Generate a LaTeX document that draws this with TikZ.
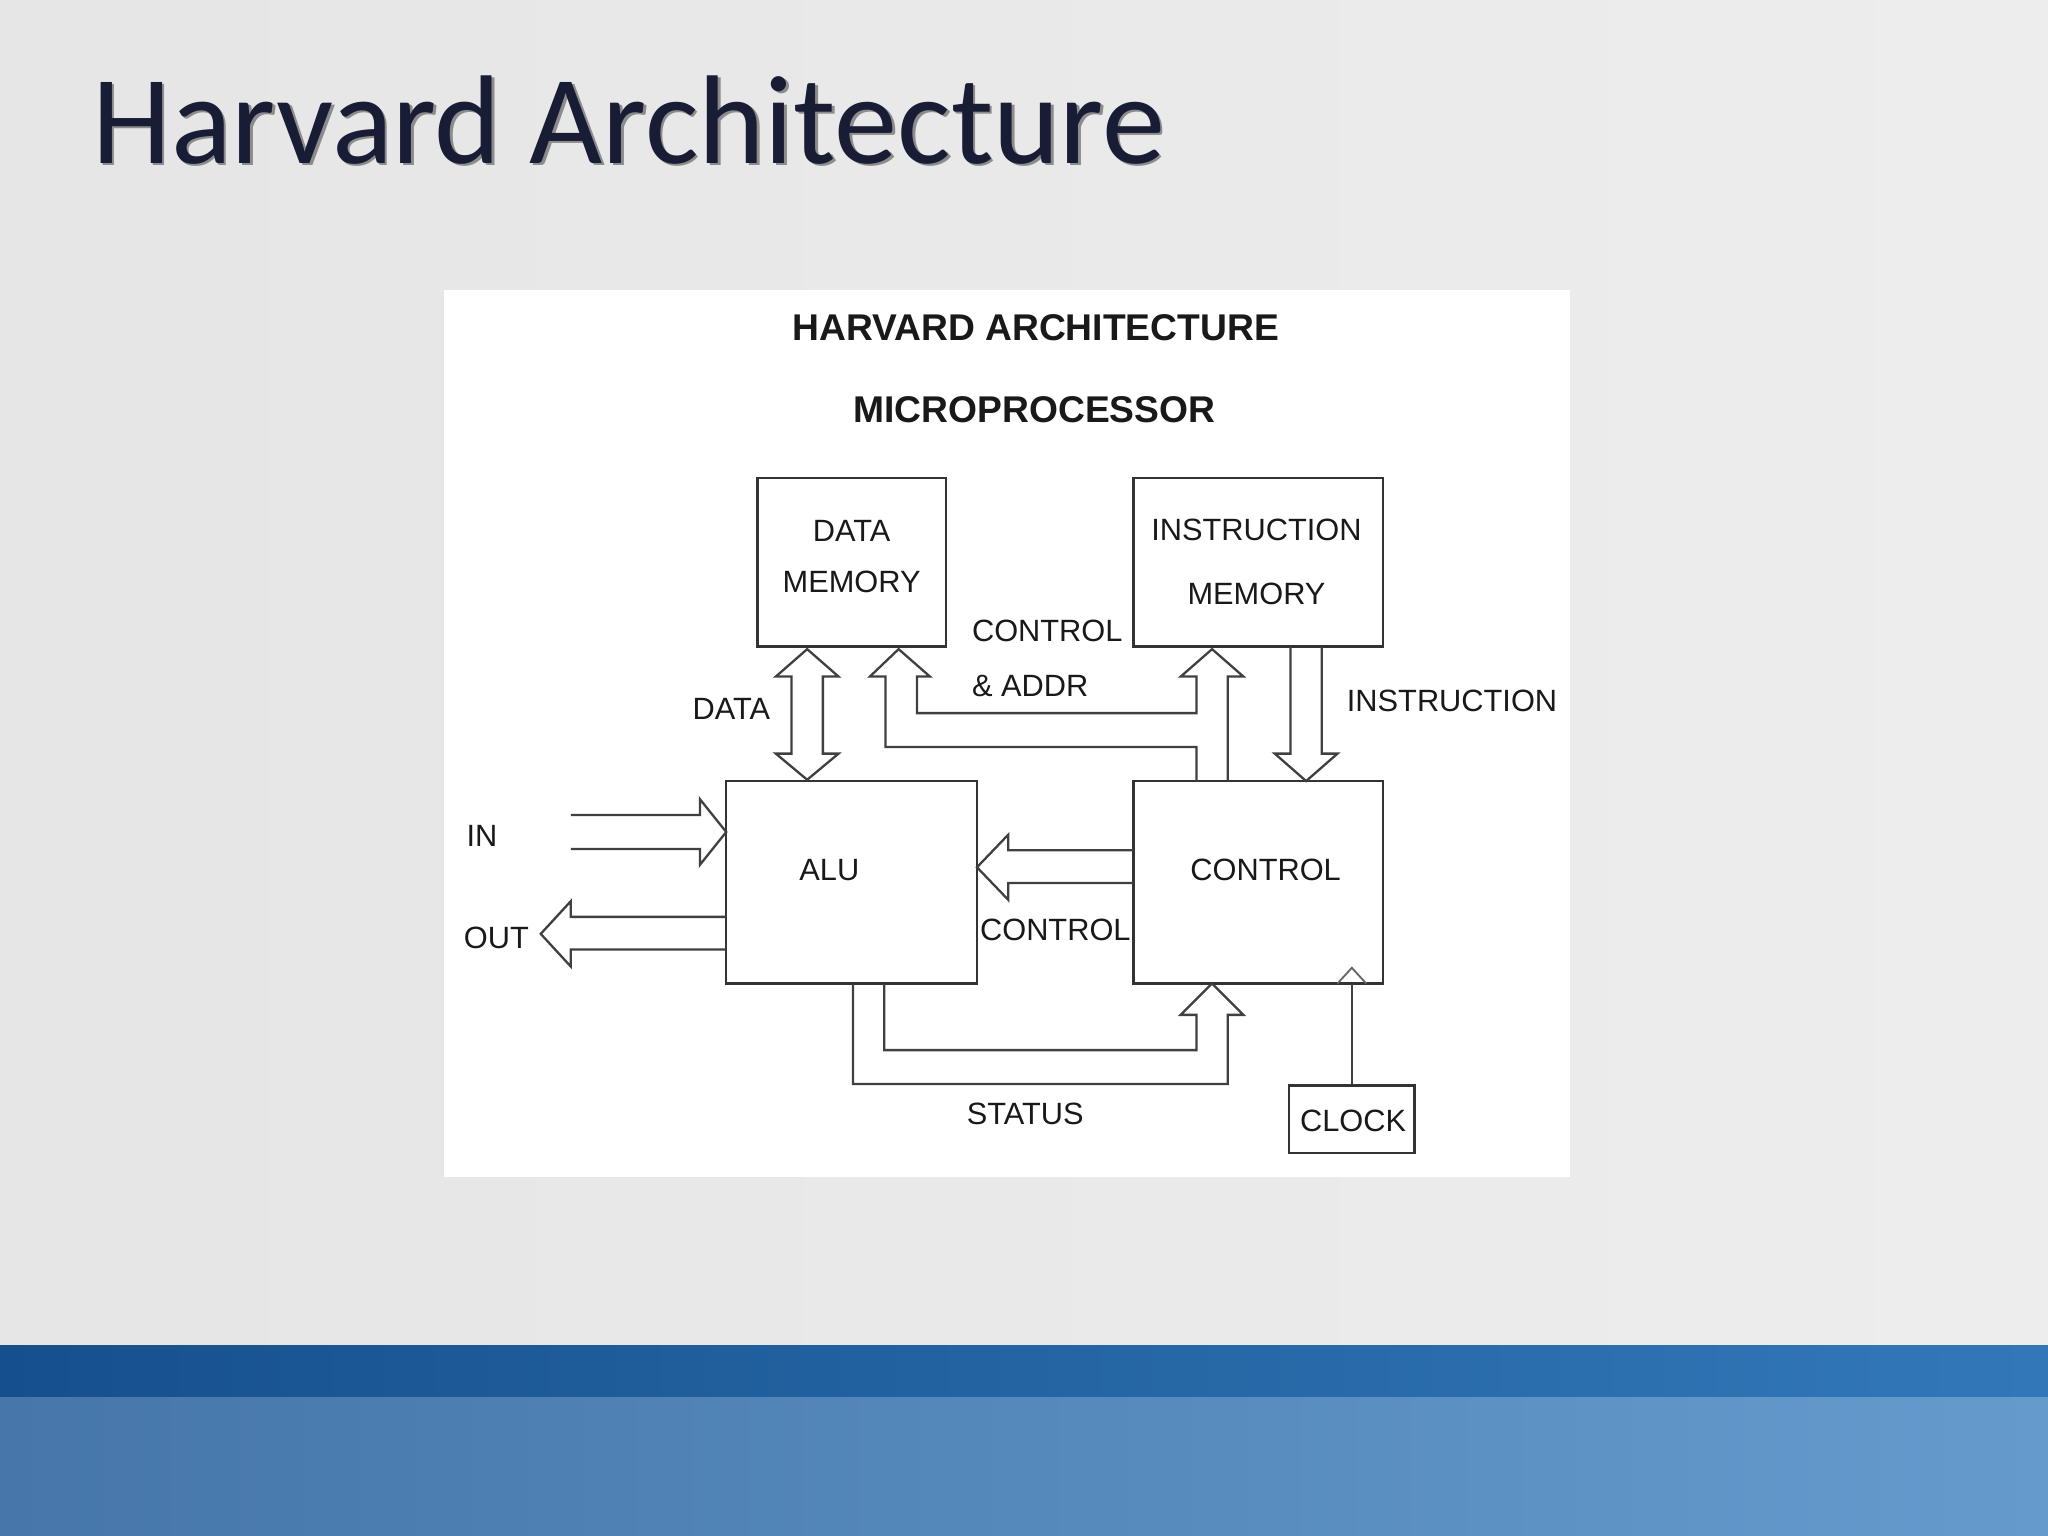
\documentclass[tikz,border=0pt]{standalone}
\usepackage{fontspec}
\setmainfont{Liberation Sans}
\newfontfamily\titlefont{Carlito}
\definecolor{navy}{RGB}{24,28,52}
\definecolor{bandA}{RGB}{22,80,140}
\definecolor{bandB}{RGB}{50,120,185}
\definecolor{bandC}{RGB}{70,118,170}
\definecolor{bandD}{RGB}{100,155,205}
\begin{document}
\begin{tikzpicture}[x=0.01cm,y=-0.01cm,
  box/.style={draw=black!80,line width=0.5pt,inner sep=0},
  fat/.style={draw=black!75,line width=0.5pt,line join=miter},
  lab/.style={font=\fontsize{6.7pt}{8pt}\selectfont,text=black!90,inner sep=1pt}]
\useasboundingbox (0,0) rectangle (1568,1176);
\shade[left color=gray!20,right color=gray!14] (0,0) rectangle (1568,1030);
\shade[left color=bandA,right color=bandB] (0,1030) rectangle (1568,1070);
\shade[left color=bandC,right color=bandD] (0,1070) rectangle (1568,1176);
\node[anchor=base west,inner sep=0,text=black!45,font=\titlefont\fontsize{27.5pt}{32pt}\selectfont] at (72,127) {Harvard Architecture};
\node[anchor=base west,inner sep=0,text=navy,font=\titlefont\fontsize{27.5pt}{32pt}\selectfont] (title) at (70,125) {Harvard Architecture};
\fill[white] (340,222) rectangle (1202,901);
\node[lab,font=\bfseries\fontsize{8.1pt}{9pt}\selectfont] (h1) at (793,251) {HARVARD ARCHITECTURE};
\node[lab,font=\bfseries\fontsize{8.1pt}{9pt}\selectfont] (h2) at (792,314) {MICROPROCESSOR};
% boxes
\node[box,minimum width=1.44cm,minimum height=1.29cm] (dm) at (652,430.5) {};
\node[lab,align=center] at (652,426) {DATA\\[3pt]MEMORY};
\node[box,minimum width=1.91cm,minimum height=1.29cm] (im) at (963.5,430.5) {};
\node[lab,align=center] at (962,430) {INSTRUCTION\\[6pt]MEMORY};
\node[box,minimum width=1.92cm,minimum height=1.55cm] (alu) at (652,675.5) {};
\node[lab] at (635,666) {ALU};
\node[box,minimum width=1.91cm,minimum height=1.55cm] (ctl) at (963.5,675.5) {};
\node[lab] at (969,666) {CONTROL};
\node[box,minimum width=0.96cm,minimum height=0.52cm] (clk) at (1035,857) {};
\node[lab] at (1036,858) {CLOCK};
% DATA double arrow
\draw[fat] (618,497) -- (642,518) -- (630,518) -- (630,577) -- (642,577) -- (618,597) -- (594,577) -- (606,577) -- (606,518) -- (594,518) -- cycle;
\node[lab] at (560,543) {DATA};
% control & addr
\draw[fat] (916,598) -- (916,572) -- (678,572) -- (678,518) -- (666,518) -- (688,497) -- (712,518) -- (702,518) -- (702,546) -- (916,546) -- (916,518) -- (904,518) -- (928,497) -- (952,518) -- (940,518) -- (940,598);
\node[lab,align=left,anchor=west] at (740,504) {CONTROL\\[4pt]\& ADDR};
% instruction
\draw[fat] (988,495) -- (988,577) -- (976,577) -- (1000,598) -- (1024,577) -- (1012,577) -- (1012,495);
\node[lab,anchor=west] at (1027,537) {INSTRUCTION};
% IN
\draw[fat] (437,624) -- (536,624) -- (536,612) -- (556,637) -- (536,662) -- (536,650) -- (437,650);
\node[lab] at (369,640) {IN};
% OUT
\draw[fat] (556,702) -- (437,702) -- (437,690) -- (414,715) -- (437,740) -- (437,727) -- (556,727);
\node[lab] at (380,718) {OUT};
% CONTROL arrow
\draw[fat] (868,651) -- (772,651) -- (772,639) -- (748,664) -- (772,689) -- (772,676) -- (868,676);
\node[lab] at (808,712) {CONTROL};
% STATUS
\draw[fat] (653,753) -- (653,830) -- (940,830) -- (940,777) -- (952,777) -- (928,753) -- (904,777) -- (916,777) -- (916,804) -- (677,804) -- (677,753);
\node[lab] at (785,853) {STATUS};
% clock
\draw[fat] (clk.north) -- (1035,753);
\draw[draw=black!60,line width=0.4pt] (1024,753) -- (1035,741) -- (1046,753);
\end{tikzpicture}
\end{document}
